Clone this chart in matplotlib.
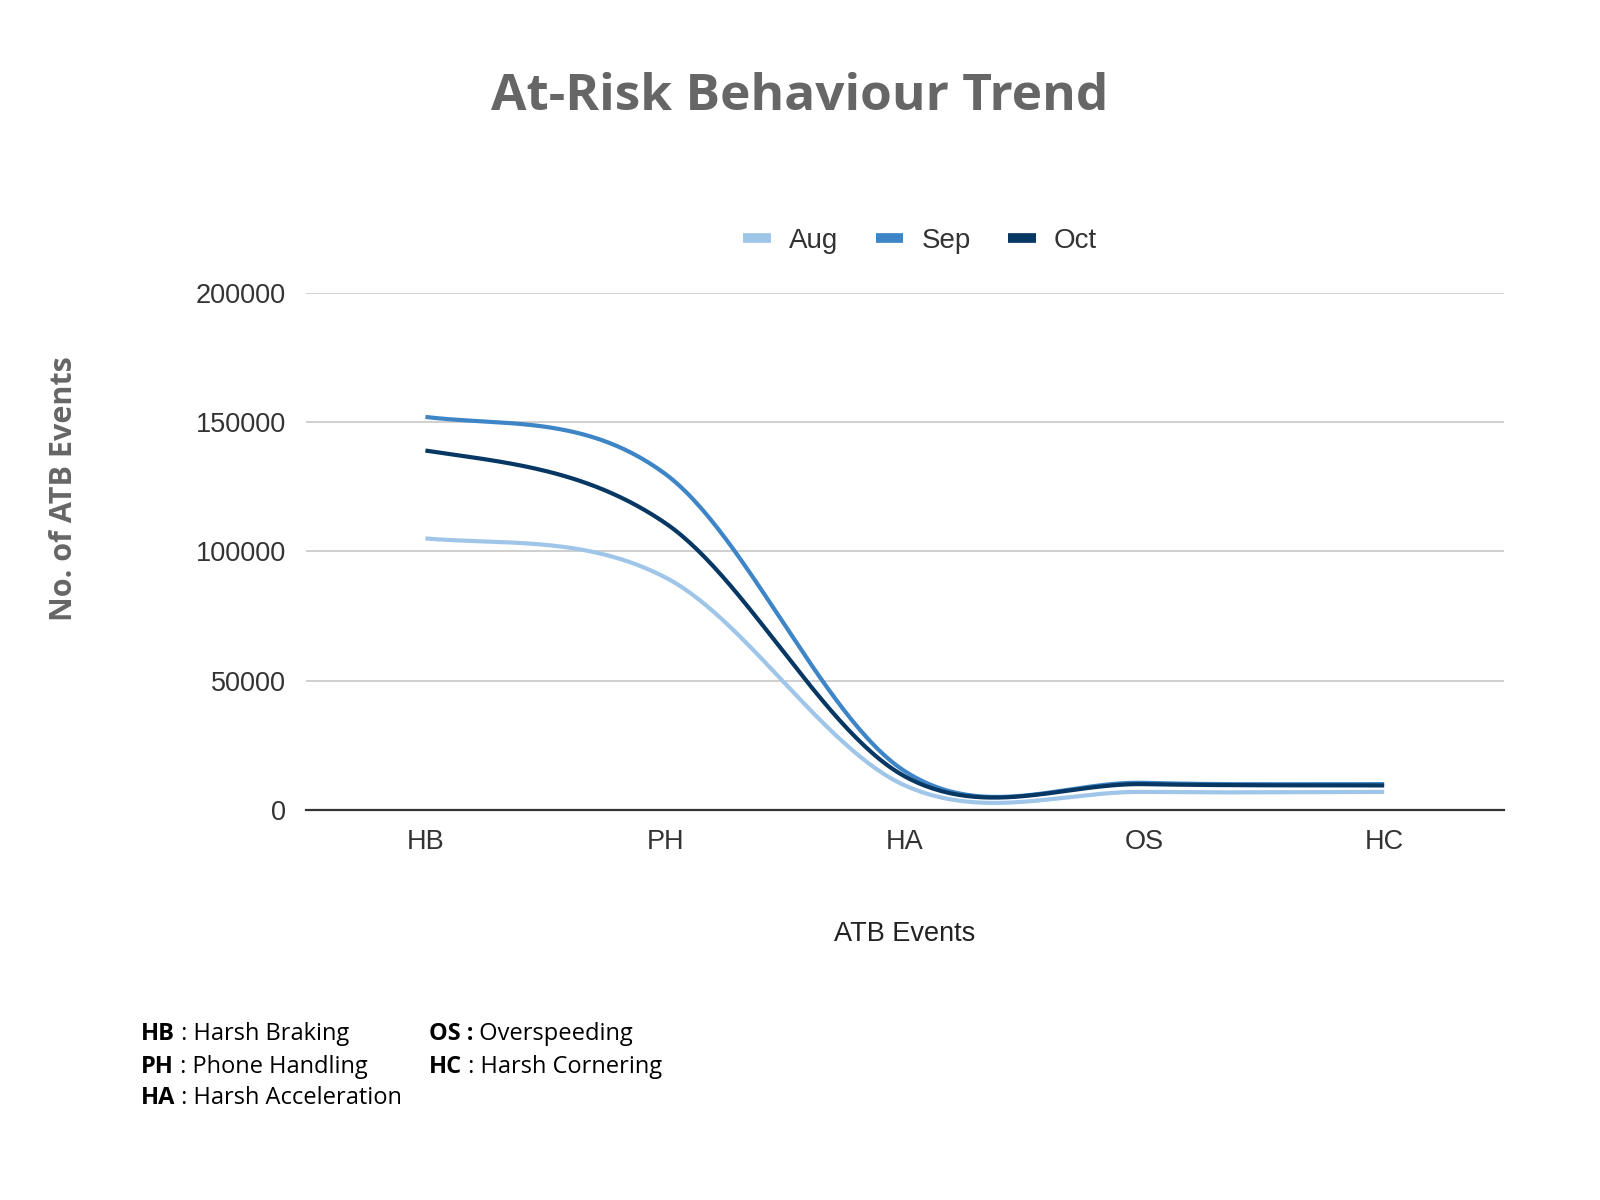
import numpy as np
import matplotlib.pyplot as plt
from matplotlib.lines import Line2D

# ATB event counts per month
events = ['HB', 'PH', 'HA', 'OS', 'HC']
aug = [105000, 90000, 9500, 7000, 7000]
sep = [152000, 130000, 15000, 10500, 10000]
oct_ = [139000, 111000, 13000, 10000, 9500]

months = ['Aug', 'Sep', 'Oct']
colors = ['#9fc5e8', '#3d85c6', '#073763']

glossary_left = [('HB', ' : Harsh Braking'), ('PH', ' : Phone Handling'),
                 ('HA', ' : Harsh Acceleration')]
glossary_right = [('OS :', ' Overspeeding'), ('HC', ' : Harsh Cornering')]


def smooth(y, n=60):
    # catmull-rom style smoothing like the spreadsheet "smooth" line
    y = np.asarray(y, dtype=float)
    k = len(y)
    m = np.zeros(k)
    m[1:-1] = (y[2:] - y[:-2]) / 2
    m[0] = (y[1] - y[0]) / 2
    m[-1] = (y[-1] - y[-2]) / 2
    xs, ys = [], []
    t = np.linspace(0, 1, n)
    h00 = 2*t**3 - 3*t**2 + 1
    h10 = t**3 - 2*t**2 + t
    h01 = -2*t**3 + 3*t**2
    h11 = t**3 - t**2
    for i in range(k - 1):
        xs.append(i + t)
        ys.append(h00*y[i] + h10*m[i] + h01*y[i+1] + h11*m[i+1])
    return np.concatenate(xs), np.concatenate(ys)


fig = plt.figure(figsize=(16, 12), dpi=100)
ax = fig.add_axes([0.191, 0.325, 0.749, 0.431])

for vals, c in zip([aug, sep, oct_], colors):
    xs, ys = smooth(vals)
    ax.plot(xs, ys, color=c, lw=3, solid_capstyle='butt')

ax.set_xlim(-0.5, len(events) - 0.5)
ax.set_ylim(0, 200000)
ax.set_yticks([0, 50000, 100000, 150000, 200000])
ax.set_xticks(range(len(events)))
ax.set_xticklabels(events)
ax.grid(axis='y', color='#cccccc', lw=1.3)
ax.set_axisbelow(True)
for s in ['top', 'right', 'left']:
    ax.spines[s].set_visible(False)
ax.spines['bottom'].set_color('#333333')
ax.spines['bottom'].set_linewidth(1.6)
ax.tick_params(length=0, labelsize=19.5, labelcolor='#333333', pad=14)
for lab in ax.get_xticklabels() + ax.get_yticklabels():
    lab.set_family('Liberation Sans')

ax.set_xlabel('ATB Events', fontsize=19.5, family='Liberation Sans',
              color='#222222', labelpad=47)

fig.text(0.04, 0.593, 'No. of ATB Events', rotation=90, ha='center', va='center',
         fontsize=22, fontweight='bold', color='#666666', family='Open Sans')
fig.text(0.5, 0.919, 'At-Risk Behaviour Trend', ha='center', va='center',
         fontsize=37, fontweight='bold', color='#666666', family='Open Sans')

handles = [Line2D([], [], color=c, lw=7, solid_capstyle='butt') for c in colors]
leg = fig.legend(handles, months, loc='center', bbox_to_anchor=(0.575, 0.799),
                 ncol=3, frameon=False, handlelength=1.0, columnspacing=1.35,
                 handletextpad=0.65,
                 prop={'family': 'Liberation Sans', 'size': 20})
for t in leg.get_texts():
    t.set_color('#333333')

# glossary under the chart
ys_txt = [0.138, 0.111, 0.085]
for col_x, items in [(0.088, glossary_left), (0.268, glossary_right)]:
    for (b, r), yy in zip(items, ys_txt):
        t = fig.text(col_x, yy, b, fontsize=17, fontweight='bold',
                     family='Open Sans', va='center', color='black')
        fig.canvas.draw()
        bb = t.get_window_extent()
        fig.text(bb.x1 / 1600, yy, r, fontsize=17, family='Open Sans',
                 va='center', color='black')

fig.savefig('out.png', dpi=100)
